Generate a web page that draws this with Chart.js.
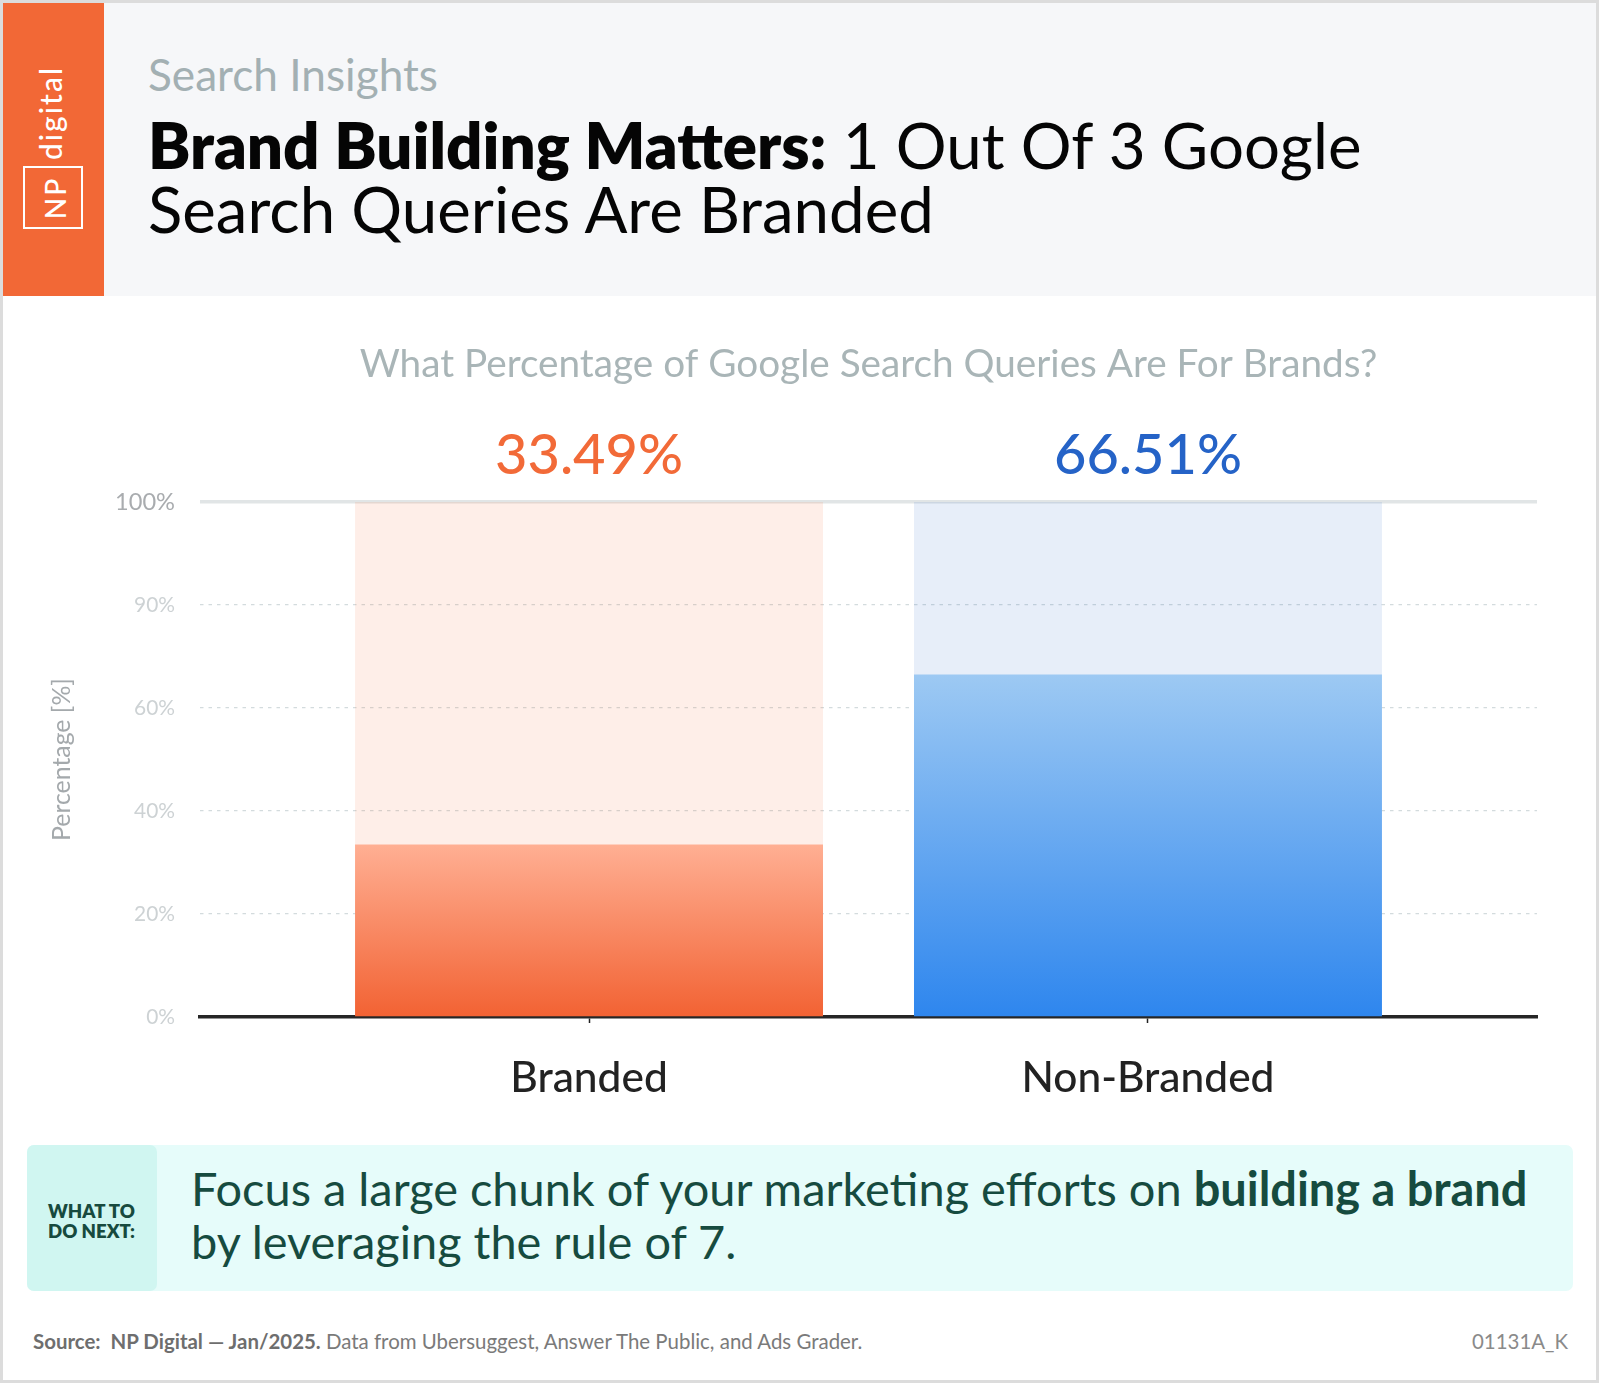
<!DOCTYPE html>
<html>
<head>
<meta charset="utf-8">
<script src="https://cdn.jsdelivr.net/npm/chart.js@4.4.1/dist/chart.umd.min.js"></script>
<style>
  html, body { margin: 0; padding: 0; background: #ffffff; }
  #page { position: relative; width: 1599px; height: 1383px; overflow: hidden; background: #ffffff; }
  #frame { position: absolute; left: 0; top: 0; width: 1599px; height: 1383px; box-sizing: border-box;
           border: 3px solid #DCDCDC; pointer-events: none; z-index: 10; }
  #header { position: absolute; left: 3px; top: 3px; width: 1593px; height: 293px; background: #F6F7F9; }
  #side { position: absolute; left: 3px; top: 3px; width: 101px; height: 293px; background: #F26836; }
  .t { position: absolute; white-space: pre; margin: 0; font-family: Lato, "Noto Sans", sans-serif; }
  .rot { position: absolute; white-space: pre; color: #ffffff; font-family: Lato, "Noto Sans", sans-serif;
         transform: translate(-50%, -50%) rotate(-90deg); transform-origin: 50% 50%; }
  #npbox { position: absolute; left: 23px; top: 166px; width: 60px; height: 63px; box-sizing: border-box;
           border: 2.5px solid #ffffff; }
  #note { position: absolute; left: 27px; top: 1145px; width: 1546px; height: 146px; background: #E6FCFA; border-radius: 7px; }
  #noteTag { position: absolute; left: 27px; top: 1145px; width: 130px; height: 146px; background: #D0F6F1; border-radius: 7px; }
  #chartWrap { position: absolute; left: 0; top: 300px; width: 1599px; height: 830px; }
</style>
</head>
<body>
<div id="page">
  <div id="header"></div>
  <div id="side"></div>
  <div id="npbox"></div>
  <div id="note"></div>
  <div id="noteTag"></div>
  <div id="chartWrap"><canvas id="chart"></canvas></div>
  <div id="frame"></div>
</div>
<script>
// ---------------- data ----------------
const categories = ['Branded', 'Non-Branded'];
const shareValues = [33.49, 66.51];
const trackValues = [100, 100];
const yTickValues = [0, 20, 40, 60, 80, 100];
const yTickLabels = ['0%', '20%', '40%', '60%', '90%', '100%'];

// ---------------- texts ----------------
const kickerText = 'Search Insights';
const titleBold = 'Brand Building Matters:';
const titleRest = ' 1 Out Of 3 Google';
const titleLine2 = 'Search Queries Are Branded';
const chartTitle = 'What Percentage of Google Search Queries Are For Brands?';
const yAxisTitle = 'Percentage [%]';
const noteTag = ['WHAT TO', 'DO NEXT:'];
const noteLine1 = 'Focus a large chunk of your marketing efforts on ';
const noteLine1Bold = 'building a brand';
const noteLine2 = 'by leveraging the rule of 7.';
const sourceBold = 'Source:  NP Digital \u2014 Jan/2025.';
const sourceRest = ' Data from Ubersuggest, Answer The Public, and Ads Grader.';
const codeText = '01131A_K';

// ---------------- styles ----------------
const FAM = 'Lato, "Noto Sans", sans-serif';
const barGradients = [['#FFAF93', '#F26233'], ['#9DC9F3', '#2E86EE']];
const trackColors = ['rgba(242,104,54,0.115)', 'rgba(37,99,199,0.11)'];
const labelColors = ['#F26A38', '#2563C7'];

// ---------------- helpers ----------------
const mctx = document.createElement('canvas').getContext('2d');
function measureParts(parts, size) {
  return parts.reduce((acc, p) => {
    mctx.font = `${p.weight} ${size}px ${FAM}`;
    return acc + mctx.measureText(p.text).width + (p.ls || 0) * p.text.length;
  }, 0);
}
function fitSize(parts, target) { return 100 * target / measureParts(parts, 100); }
function vmetrics(size) {
  mctx.font = `400 ${size}px ${FAM}`;
  const m = mctx.measureText('Hg');
  return { asc: m.fontBoundingBoxAscent, desc: m.fontBoundingBoxDescent };
}
const page = document.getElementById('page');
function addText(parts, o) {
  const d = document.createElement('div');
  d.className = 't';
  parts.forEach(p => {
    const s = document.createElement('span');
    s.textContent = p.text;
    s.style.fontWeight = p.weight;
    if (p.color) s.style.color = p.color;
    d.appendChild(s);
  });
  const vm = vmetrics(o.size);
  d.style.fontSize = o.size + 'px';
  d.style.lineHeight = (vm.asc + vm.desc) + 'px';
  d.style.top = (o.baseline - vm.asc) + 'px';
  d.style.color = o.color;
  if (o.ls) d.style.letterSpacing = o.ls + 'px';
  if (o.align === 'right') d.style.right = (1599 - o.x) + 'px';
  else d.style.left = o.x + 'px';
  page.appendChild(d);
  return d;
}
function addRot(text, o) {
  const d = document.createElement('div');
  d.className = 'rot';
  d.textContent = text;
  const vm = vmetrics(o.size);
  d.style.fontSize = o.size + 'px';
  d.style.fontWeight = o.weight;
  d.style.letterSpacing = o.ls + 'px';
  d.style.lineHeight = (vm.asc + vm.desc) + 'px';
  d.style.left = o.cx + 'px';
  d.style.top = o.cy + 'px';
  page.appendChild(d);
}

// ---------------- header ----------------
addRot('digital', { size: 30, weight: 500, ls: 2, cx: 50, cy: 113 });
addRot('NP', { size: 28, weight: 500, ls: 2, cx: 55, cy: 198 });

const kSize = fitSize([{ text: kickerText, weight: 400 }], 290);
addText([{ text: kickerText, weight: 400 }], { x: 148, baseline: 91, size: kSize, color: '#A3B0B3' });

const t1 = [{ text: titleBold, weight: 800 }, { text: titleRest, weight: 400 }];
const t2 = [{ text: titleLine2, weight: 400 }];
const tSize = (fitSize(t1, 1204) + fitSize(t2, 795)) / 2;
addText(t1, { x: 148, baseline: 169, size: tSize, color: '#050505' });
addText(t2, { x: 148, baseline: 233, size: tSize, color: '#050505' });

// ---------------- note ----------------
const n1 = [{ text: noteLine1, weight: 400 }, { text: noteLine1Bold, weight: 700 }];
const nSize = fitSize(n1, 1340);
addText(n1, { x: 191, baseline: 1206, size: nSize, color: '#164B3F' });
addText([{ text: noteLine2, weight: 400 }], { x: 191, baseline: 1259, size: nSize, color: '#164B3F' });
const tagSize = fitSize([{ text: noteTag[0], weight: 800 }], 88);
addText([{ text: noteTag[0], weight: 800 }], { x: 48, baseline: 1218, size: tagSize, color: '#174A3E' });
addText([{ text: noteTag[1], weight: 800 }], { x: 48, baseline: 1238, size: tagSize, color: '#174A3E' });

// ---------------- source ----------------
const src = [{ text: sourceBold, weight: 700, color: '#6E6E6E' }, { text: sourceRest, weight: 400, color: '#7A7A7A' }];
const sSize = fitSize(src, 833);
addText(src, { x: 33, baseline: 1349, size: sSize, color: '#7A7A7A' });
addText([{ text: codeText, weight: 400 }], { x: 1568, baseline: 1349, size: sSize, color: '#8A8A8A', align: 'right' });

// ---------------- chart ----------------
const WRAP_TOP = 300, WRAP_H = 830;
const AREA_TOP = 502, AREA_BOTTOM = 1017, AREA_LEFT = 200, AREA_RIGHT = 1537;
const PAD_LEFT = 30;
const X_PAD = 0.696;

const fs = {
  title: fitSize([{ text: chartTitle, weight: 400 }], 1018),
  value: fitSize([{ text: '33.49%', weight: 500 }], 188),
  xlab: fitSize([{ text: categories[1], weight: 500 }], 253),
  ybig: fitSize([{ text: yTickLabels[5], weight: 400 }], 60),
  ysmall: fitSize([{ text: yTickLabels[3], weight: 400 }], 41),
  ytitle: fitSize([{ text: yAxisTitle, weight: 400 }], 163)
};
const titlePadTop = 365 - WRAP_TOP - 0.6 * fs.title;
const titlePadBottom = (AREA_TOP - WRAP_TOP) - titlePadTop - 1.2 * fs.title;
const xTickPad = 1078 - 0.6 * fs.xlab - AREA_BOTTOM - 6;
const yTitlePad = 62 - PAD_LEFT - 0.6 * fs.ytitle;

const valueLabels = {
  id: 'valueLabels',
  afterDatasetsDraw(chart) {
    const meta = chart.getDatasetMeta(1);
    const ctx = chart.ctx;
    const yTop = chart.scales.y.getPixelForValue(yTickValues[yTickValues.length - 1]);
    meta.data.forEach((bar, i) => {
      ctx.save();
      ctx.font = `500 ${fs.value}px ${FAM}`;
      ctx.fillStyle = labelColors[i];
      ctx.textAlign = 'center';
      ctx.textBaseline = 'alphabetic';
      ctx.fillText(shareValues[i].toFixed(2) + '%', bar.x, yTop - 28);
      ctx.restore();
    });
  }
};

new Chart(document.getElementById('chart'), {
  type: 'bar',
  data: {
    datasets: [
      {
        label: 'Total',
        data: trackValues.map((v, i) => ({ x: i, y: v })),
        backgroundColor: trackColors,
        borderWidth: 0,
        grouped: false,
        order: 2
      },
      {
        label: 'Share',
        data: shareValues.map((v, i) => ({ x: i, y: v })),
        backgroundColor: (c) => {
          const stops = barGradients[c.dataIndex] || barGradients[0];
          const chart = c.chart;
          if (!chart.chartArea || !c.parsed) return stops[1];
          const ys = chart.scales.y;
          const top = ys.getPixelForValue(c.parsed.y);
          const bottom = ys.getPixelForValue(0);
          const g = chart.ctx.createLinearGradient(0, top, 0, bottom);
          g.addColorStop(0, stops[0]);
          g.addColorStop(1, stops[1]);
          return g;
        },
        borderWidth: 0,
        grouped: false,
        order: 1
      }
    ]
  },
  options: {
    responsive: true,
    maintainAspectRatio: false,
    animation: false,
    devicePixelRatio: 1,
    categoryPercentage: 1,
    barPercentage: 468 / 559,
    layout: { padding: { left: PAD_LEFT, right: 1599 - AREA_RIGHT, top: 0, bottom: 0 } },
    plugins: {
      legend: { display: false },
      tooltip: { enabled: false },
      title: {
        display: true,
        text: chartTitle,
        fullSize: false,
        color: '#A9B5B7',
        font: { family: FAM, size: fs.title, weight: 400, lineHeight: 1.2 },
        padding: { top: titlePadTop, bottom: titlePadBottom }
      }
    },
    scales: {
      x: {
        type: 'linear',
        min: -X_PAD,
        max: 1 + X_PAD,
        offset: false,
        z: 1,
        afterBuildTicks: (scale) => { scale.ticks = categories.map((_, i) => ({ value: i })); },
        afterFit: (scale) => { scale.height = WRAP_TOP + WRAP_H - AREA_BOTTOM; },
        ticks: {
          callback: (v) => categories[v] !== undefined ? categories[v] : '',
          color: '#222222',
          font: { family: FAM, size: fs.xlab, weight: 500, lineHeight: 1.2 },
          padding: xTickPad,
          maxRotation: 0,
          autoSkip: false
        },
        grid: {
          display: true,
          offset: false,
          drawOnChartArea: false,
          drawTicks: true,
          tickLength: 6,
          tickColor: '#222222',
          tickWidth: 1.5
        },
        border: { display: true, color: '#262626', width: 3.5 }
      },
      y: {
        min: 0,
        max: 100,
        afterBuildTicks: (scale) => { scale.ticks = yTickValues.map(v => ({ value: v })); },
        afterFit: (scale) => { scale.width = AREA_LEFT - PAD_LEFT; },
        ticks: {
          callback: (v) => yTickLabels[yTickValues.indexOf(v)],
          padding: AREA_LEFT - 175,
          color: (c) => (c.tick && c.tick.value === 100) ? '#A9ACAF' : '#CDD2D4',
          font: (c) => ({ family: FAM, weight: 400,
            size: (c.tick && c.tick.value === 100) ? fs.ybig : fs.ysmall })
        },
        grid: {
          drawTicks: false,
          color: (c) => (c.tick && c.tick.value === 100) ? '#E1E5E6' : '#D3DBDD',
          lineWidth: (c) => (c.tick && c.tick.value === 100) ? 3.5 : 1.3
        },
        border: {
          display: false,
          dash: (c) => (c.tick && c.tick.value === 100) ? [] : [3.5, 5]
        },
        title: {
          display: true,
          text: yAxisTitle,
          color: '#A4A9AC',
          font: { family: FAM, size: fs.ytitle, weight: 400, lineHeight: 1.2 },
          padding: { top: yTitlePad, bottom: 0 }
        }
      }
    }
  },
  plugins: [valueLabels]
});
</script>
</body>
</html>
